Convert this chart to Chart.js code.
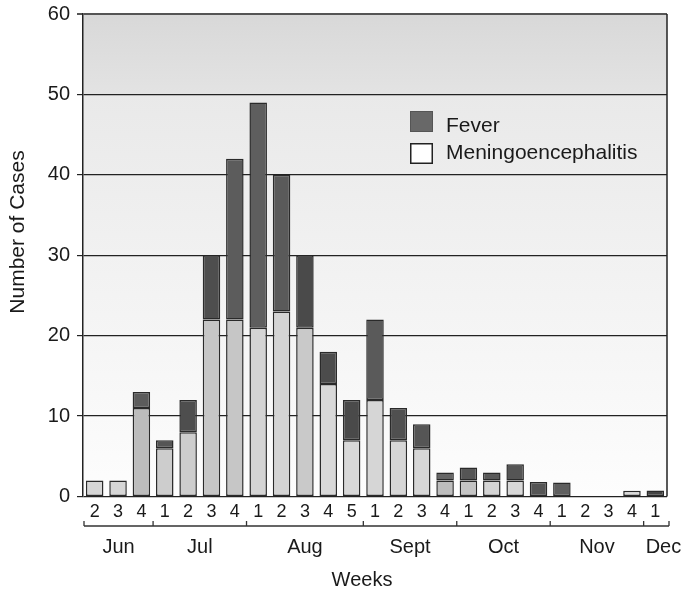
<!DOCTYPE html>
<html>
<head>
<meta charset="utf-8">
<script src="https://cdn.jsdelivr.net/npm/chart.js@4.4.1/dist/chart.umd.min.js"></script>
<style>
html,body{margin:0;padding:0;background:#fff;}
canvas{display:block;}
</style>
</head>
<body>
<canvas id="c" width="685" height="591"></canvas>
<script>
// ---- data ----
const weeks = ['2','3','4','1','2','3','4','1','2','3','4','5','1','2','3','4','1','2','3','4','1','2','3','4','1'];
const months = ['Jun','Jul','Aug','Sept','Oct','Nov','Dec'];
const monthWeeks = [3,4,5,4,4,4,1];
const meningo = [2,2,11,6,8,22,22,21,23,21,14,7,12,7,6,2,2,2,2,null,null,null,null,0.7,null];
const fever   = [null,null,2,1,4,8,20,28,17,9,4,5,10,4,3,1,1.6,1,2,1.8,1.75,null,null,null,0.75];
const yTicks = [0,10,20,30,40,50,60];

// ---- styles ----
const meningoShade = ['#d6d6d6','#d6d6d6','#bcbcbc','#cdcdcd','#cdcdcd','#c6c6c6','#c6c6c6','#d4d4d4','#d4d4d4','#c9c9c9','#d8d8d8','#d8d8d8','#d6d6d6','#d6d6d6','#d6d6d6','#bdbdbd','#c4c4c4','#d4d4d4','#d8d8d8','#d6d6d6','#d6d6d6','#d6d6d6','#d6d6d6','#dadada','#d6d6d6'];
const feverShade = ['#5c5c5c','#5c5c5c','#5c5c5c','#555555','#4e4e4e','#4e4e4e','#5c5c5c','#5e5e5e','#5a5a5a','#4a4a4a','#4c4c4c','#4a4a4a','#5a5a5a','#505050','#555555','#666666','#555555','#5a5a5a','#555555','#555555','#5e5e5e','#5c5c5c','#5c5c5c','#5c5c5c','#444444'];
const FONT = '"Liberation Sans", Arial, Helvetica, sans-serif';

const decorPlugin = {
  id: 'decor',
  beforeDraw(chart) {
    const {ctx, chartArea: a} = chart;
    const y = chart.scales.y;
    const y50 = y.getPixelForValue(50);
    ctx.save();
    let g = ctx.createLinearGradient(0, a.top, 0, y50);
    g.addColorStop(0, '#d8d8d8');
    g.addColorStop(1, '#e3e3e3');
    ctx.fillStyle = g;
    ctx.fillRect(a.left, a.top, a.right - a.left, y50 - a.top);
    g = ctx.createLinearGradient(0, y50, 0, a.bottom);
    g.addColorStop(0, '#e9e9e9');
    g.addColorStop(1, '#fdfdfd');
    ctx.fillStyle = g;
    ctx.fillRect(a.left, y50, a.right - a.left, a.bottom - y50);
    ctx.restore();
  },
  afterDraw(chart) {
    const {ctx, chartArea: a} = chart;
    const x = chart.scales.x;
    ctx.save();
    // right border
    ctx.strokeStyle = '#222';
    ctx.lineWidth = 1.5;
    ctx.beginPath();
    ctx.moveTo(a.right, a.top);
    ctx.lineTo(a.right, a.bottom);
    ctx.stroke();

    // month bracket
    const half = (x.getPixelForValue(1) - x.getPixelForValue(0)) / 2;
    const lineY = 526;
    const bounds = [];
    let idx = 0;
    bounds.push(x.getPixelForValue(0) - half);
    monthWeeks.forEach(n => { idx += n; bounds.push(x.getPixelForValue(idx - 1) + half); });
    bounds[0] += 1;
    bounds[bounds.length - 1] += 2;
    ctx.strokeStyle = '#333';
    ctx.lineWidth = 1.3;
    ctx.beginPath();
    ctx.moveTo(bounds[0], lineY);
    ctx.lineTo(bounds[bounds.length - 1], lineY);
    bounds.forEach(b => { ctx.moveTo(b, lineY); ctx.lineTo(b, lineY - 5); });
    ctx.stroke();

    ctx.fillStyle = '#1a1a1a';
    ctx.font = '20px ' + FONT;
    ctx.textBaseline = 'alphabetic';
    months.forEach((m, i) => {
      if (i === months.length - 1) {
        ctx.textAlign = 'left';
        ctx.fillText(m, bounds[i] + 2, 553);
      } else {
        ctx.textAlign = 'center';
        ctx.fillText(m, (bounds[i] + bounds[i + 1]) / 2, 553);
      }
    });

    // axis titles
    ctx.textAlign = 'center';
    ctx.fillText('Weeks', 362, 586);
    ctx.save();
    ctx.translate(18, 232);
    ctx.rotate(-Math.PI / 2);
    ctx.textBaseline = 'middle';
    ctx.font = '21px ' + FONT;
    ctx.fillText('Number of Cases', 0, 0);
    ctx.restore();

    // legend
    ctx.fillStyle = '#686868';
    ctx.fillRect(410, 111, 23, 21);
    ctx.strokeStyle = '#555';
    ctx.lineWidth = 1;
    ctx.strokeRect(410.5, 111.5, 22, 20);
    ctx.fillStyle = '#ffffff';
    ctx.fillRect(410, 143, 23, 21);
    ctx.strokeStyle = '#222';
    ctx.lineWidth = 1.5;
    ctx.strokeRect(410.75, 143.75, 21.5, 19.5);
    ctx.fillStyle = '#1a1a1a';
    ctx.font = '21px ' + FONT;
    ctx.textAlign = 'left';
    ctx.textBaseline = 'alphabetic';
    ctx.fillText('Fever', 446, 132);
    ctx.fillText('Meningoencephalitis', 446, 159);
    ctx.restore();
  }
};

new Chart(document.getElementById('c'), {
  type: 'bar',
  data: {
    labels: weeks,
    datasets: [
      { label: 'Meningoencephalitis', data: meningo, backgroundColor: meningoShade, borderColor: '#2a2a2a', borderWidth: 1.5, borderSkipped: false, barPercentage: 0.75, categoryPercentage: 1.0 },
      { label: 'Fever', data: fever, backgroundColor: feverShade, borderColor: '#2a2a2a', borderWidth: 1.5, borderSkipped: false, barPercentage: 0.75, categoryPercentage: 1.0 }
    ]
  },
  options: {
    responsive: false,
    animation: false,
    devicePixelRatio: 1,
    layout: { padding: { top: 14, right: 18, left: 0, bottom: 0 } },
    plugins: { legend: { display: false }, tooltip: { enabled: false } },
    scales: {
      x: {
        stacked: true,
        grid: { display: false, drawTicks: false },
        border: { display: false },
        ticks: { color: '#1a1a1a', font: { family: FONT, size: 18 }, padding: 5, maxRotation: 0, autoSkip: false },
        afterFit(s) { s.height = 94.5; s.paddingLeft = 0; s.paddingRight = 0; }
      },
      y: {
        stacked: true,
        min: 0, max: 60,
        afterBuildTicks(s) { s.ticks = yTicks.map(v => ({ value: v })); },
        grid: {
          color: ctx => ctx.tick && ctx.tick.value === 60 ? '#555' : '#222',
          lineWidth: ctx => ctx.tick && ctx.tick.value === 60 ? 2 : 1.2,
          drawTicks: true,
          tickLength: 6
        },
        border: { display: true, color: '#222', width: 1.5 },
        ticks: { color: '#1a1a1a', font: { family: FONT, size: 20 }, padding: 7 },
        afterFit(s) { s.width = 83; s.paddingTop = 0; s.paddingBottom = 0; }
      }
    }
  },
  plugins: [decorPlugin]
});
</script>
</body>
</html>
